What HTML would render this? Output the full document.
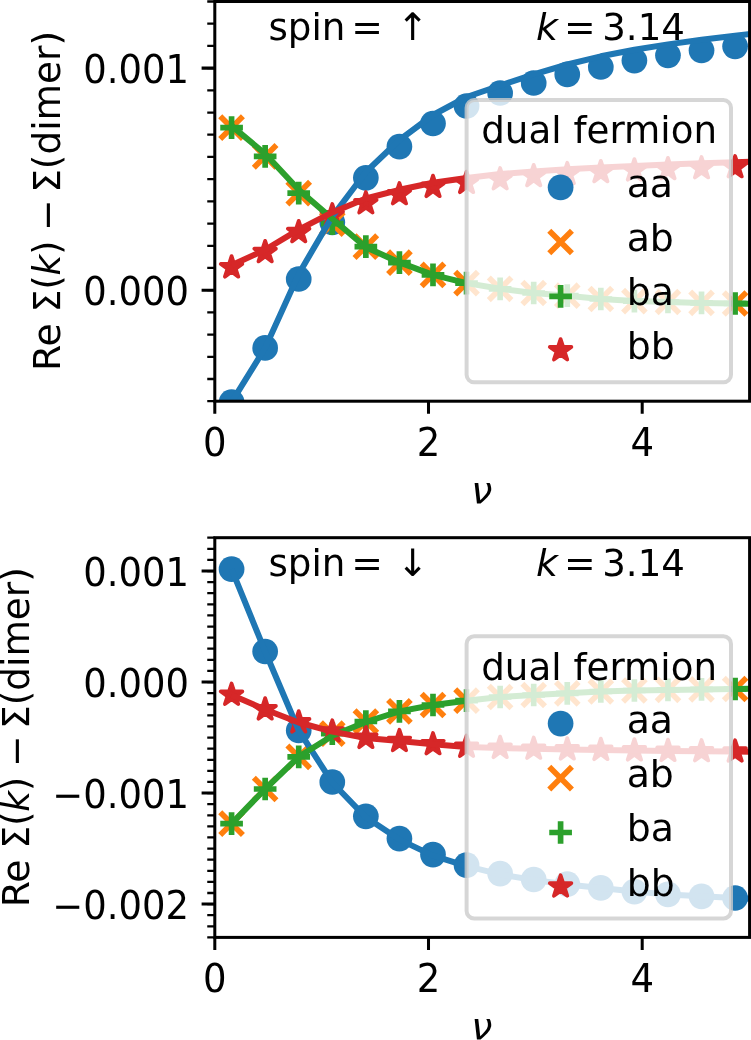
<!DOCTYPE html>
<html><head><meta charset="utf-8"><title>plot</title>
<style>html,body{margin:0;padding:0;background:#fff;overflow:hidden}svg{display:block}</style>
</head><body>
<svg width="751" height="1040" viewBox="0 0 751 1040" font-family="'DejaVu Sans', 'Liberation Sans', sans-serif" font-size="37.8px" fill="#000">
<rect width="751" height="1040" fill="#fff"/>
<clipPath id="clip0"><rect x="214.8" y="1.5" width="534.8" height="399.7"/></clipPath>
<g clip-path="url(#clip0)">
<circle cx="231.58" cy="402.20" r="12.85" fill="#1f77b4"/>
<circle cx="265.15" cy="347.90" r="12.85" fill="#1f77b4"/>
<circle cx="298.72" cy="279.00" r="12.85" fill="#1f77b4"/>
<circle cx="332.29" cy="222.40" r="12.85" fill="#1f77b4"/>
<circle cx="365.86" cy="177.80" r="12.85" fill="#1f77b4"/>
<circle cx="399.42" cy="146.60" r="12.85" fill="#1f77b4"/>
<circle cx="432.99" cy="123.50" r="12.85" fill="#1f77b4"/>
<circle cx="466.56" cy="106.00" r="12.85" fill="#1f77b4"/>
<circle cx="500.13" cy="93.00" r="12.85" fill="#1f77b4"/>
<circle cx="533.70" cy="83.00" r="12.85" fill="#1f77b4"/>
<circle cx="567.26" cy="74.40" r="12.85" fill="#1f77b4"/>
<circle cx="600.83" cy="67.00" r="12.85" fill="#1f77b4"/>
<circle cx="634.40" cy="60.60" r="12.85" fill="#1f77b4"/>
<circle cx="667.97" cy="55.30" r="12.85" fill="#1f77b4"/>
<circle cx="701.53" cy="50.40" r="12.85" fill="#1f77b4"/>
<circle cx="735.10" cy="46.30" r="12.85" fill="#1f77b4"/>
<path d="M220.25,116.26L242.92,138.94M220.25,138.94L242.92,116.26M253.82,145.06L276.49,167.74M253.82,167.74L276.49,145.06M287.38,181.86L310.05,204.53M287.38,204.53L310.05,181.86M320.95,212.26L343.62,234.94M320.95,234.94L343.62,212.26M354.52,235.36L377.19,258.03M354.52,258.03L377.19,235.36M388.09,251.36L410.76,274.03M388.09,274.03L410.76,251.36M421.66,263.56L444.33,286.23M421.66,286.23L444.33,263.56M455.22,271.77L477.89,294.44M455.22,294.44L477.89,271.77M488.79,277.47L511.46,300.13M488.79,300.13L511.46,277.47M522.36,281.67L545.03,304.33M522.36,304.33L545.03,281.67M555.93,284.37L578.60,307.03M555.93,307.03L578.60,284.37M589.50,287.67L612.17,310.33M589.50,310.33L612.17,287.67M623.06,289.77L645.73,312.44M623.06,312.44L645.73,289.77M656.63,290.67L679.30,313.33M656.63,313.33L679.30,290.67M690.20,291.56L712.87,314.23M690.20,314.23L712.87,291.56M723.77,292.17L746.44,314.83M723.77,314.83L746.44,292.17" stroke="#ff7f0e" stroke-width="5.67" fill="none"/>
<path d="M220.25,127.60L242.92,127.60M231.58,116.26L231.58,138.94M253.82,156.40L276.49,156.40M265.15,145.06L265.15,167.74M287.38,193.20L310.05,193.20M298.72,181.86L298.72,204.53M320.95,223.60L343.62,223.60M332.29,212.26L332.29,234.94M354.52,246.70L377.19,246.70M365.86,235.36L365.86,258.03M388.09,262.70L410.76,262.70M399.42,251.36L399.42,274.03M421.66,274.90L444.33,274.90M432.99,263.56L432.99,286.23M455.22,283.10L477.89,283.10M466.56,271.77L466.56,294.44M488.79,288.80L511.46,288.80M500.13,277.47L500.13,300.13M522.36,293.00L545.03,293.00M533.70,281.67L533.70,304.33M555.93,295.70L578.60,295.70M567.26,284.37L567.26,307.03M589.50,299.00L612.17,299.00M600.83,287.67L600.83,310.33M623.06,301.10L645.73,301.10M634.40,289.77L634.40,312.44M656.63,302.00L679.30,302.00M667.97,290.67L667.97,313.33M690.20,302.90L712.87,302.90M701.53,291.56L701.53,314.23M723.77,303.50L746.44,303.50M735.10,292.17L735.10,314.83" stroke="#2ca02c" stroke-width="5.67" fill="none"/>
<path d="M231.58,256.17 L234.13,264.00 L242.36,264.00 L235.70,268.84 L238.25,276.67 L231.58,271.83 L224.92,276.67 L227.47,268.84 L220.80,264.00 L229.04,264.00ZM265.15,240.86 L267.70,248.70 L275.93,248.70 L269.27,253.54 L271.81,261.37 L265.15,256.53 L258.49,261.37 L261.03,253.54 L254.37,248.70 L262.61,248.70ZM298.72,220.86 L301.26,228.70 L309.50,228.70 L302.84,233.54 L305.38,241.37 L298.72,236.53 L292.06,241.37 L294.60,233.54 L287.94,228.70 L296.17,228.70ZM332.29,203.97 L334.83,211.80 L343.07,211.80 L336.41,216.64 L338.95,224.47 L332.29,219.63 L325.63,224.47 L328.17,216.64 L321.51,211.80 L329.74,211.80ZM365.86,192.06 L368.40,199.90 L376.64,199.90 L369.97,204.74 L372.52,212.57 L365.86,207.73 L359.19,212.57 L361.74,204.74 L355.08,199.90 L363.31,199.90ZM399.42,182.97 L401.97,190.80 L410.20,190.80 L403.54,195.64 L406.09,203.47 L399.42,198.63 L392.76,203.47 L395.31,195.64 L388.64,190.80 L396.88,190.80ZM432.99,175.66 L435.54,183.50 L443.77,183.50 L437.11,188.34 L439.65,196.17 L432.99,191.33 L426.33,196.17 L428.87,188.34 L422.21,183.50 L430.45,183.50ZM466.56,171.66 L469.10,179.50 L477.34,179.50 L470.68,184.34 L473.22,192.17 L466.56,187.33 L459.90,192.17 L462.44,184.34 L455.78,179.50 L464.01,179.50ZM500.13,168.06 L502.67,175.90 L510.91,175.90 L504.24,180.74 L506.79,188.57 L500.13,183.73 L493.46,188.57 L496.01,180.74 L489.35,175.90 L497.58,175.90ZM533.70,164.86 L536.24,172.70 L544.48,172.70 L537.81,177.54 L540.36,185.37 L533.70,180.53 L527.03,185.37 L529.58,177.54 L522.91,172.70 L531.15,172.70ZM567.26,162.76 L569.81,170.60 L578.04,170.60 L571.38,175.44 L573.93,183.27 L567.26,178.43 L560.60,183.27 L563.15,175.44 L556.48,170.60 L564.72,170.60ZM600.83,160.86 L603.38,168.70 L611.61,168.70 L604.95,173.54 L607.49,181.37 L600.83,176.53 L594.17,181.37 L596.71,173.54 L590.05,168.70 L598.29,168.70ZM634.40,159.16 L636.94,167.00 L645.18,167.00 L638.52,171.84 L641.06,179.67 L634.40,174.83 L627.74,179.67 L630.28,171.84 L623.62,167.00 L631.85,167.00ZM667.97,157.86 L670.51,165.70 L678.75,165.70 L672.08,170.54 L674.63,178.37 L667.97,173.53 L661.30,178.37 L663.85,170.54 L657.19,165.70 L665.42,165.70ZM701.53,156.97 L704.08,164.80 L712.32,164.80 L705.65,169.64 L708.20,177.47 L701.53,172.63 L694.87,177.47 L697.42,169.64 L690.75,164.80 L698.99,164.80ZM735.10,155.97 L737.65,163.80 L745.88,163.80 L739.22,168.64 L741.77,176.47 L735.10,171.63 L728.44,176.47 L730.99,168.64 L724.32,163.80 L732.56,163.80Z" stroke="#d62728" stroke-width="3.78" stroke-linejoin="round" fill="#d62728"/>
<polyline points="231.58,402.20 265.15,347.90 298.72,273.90 332.29,216.50 365.86,172.00 399.42,140.00 432.99,115.00 466.56,97.00 500.13,85.50 533.70,74.40 567.26,64.50 600.83,56.30 634.40,49.80 667.97,44.40 701.53,39.80 735.10,35.80 768.67,31.80" stroke="#1f77b4" stroke-width="6.0" fill="none" stroke-linejoin="round" stroke-linecap="butt"/>
<polyline points="231.58,125.90 265.15,153.80 298.72,189.70 332.29,218.80 365.86,247.20 399.42,262.40 432.99,274.90 466.56,283.10 500.13,288.80 533.70,293.00 567.26,295.70 600.83,299.00 634.40,301.10 667.97,302.00 701.53,302.90 735.10,303.50 768.67,304.10" stroke="#2ca02c" stroke-width="6.0" fill="none" stroke-linejoin="round" stroke-linecap="butt"/>
<polyline points="231.58,265.30 265.15,249.80 298.72,229.60 332.29,212.40 365.86,198.50 399.42,189.80 432.99,182.70 466.56,178.00 500.13,174.00 533.70,171.50 567.26,169.30 600.83,167.60 634.40,166.00 667.97,164.50 701.53,163.30 735.10,162.20 768.67,161.10" stroke="#d62728" stroke-width="6.0" fill="none" stroke-linejoin="round" stroke-linecap="butt"/>
</g>
<path d="M214.8,1.50h-7.55M214.8,23.71h-7.55M214.8,45.91h-7.55M214.8,68.12h-7.55M214.8,90.32h-7.55M214.8,112.53h-7.55M214.8,134.73h-7.55M214.8,156.94h-7.55M214.8,179.14h-7.55M214.8,201.35h-7.55M214.8,223.56h-7.55M214.8,245.76h-7.55M214.8,267.97h-7.55M214.8,290.17h-7.55M214.8,312.38h-7.55M214.8,334.58h-7.55M214.8,356.79h-7.55M214.8,378.99h-7.55M214.8,401.20h-7.55" stroke="#000" stroke-width="2.27" fill="none"/>
<path d="M214.8,68.12h-13.2M214.8,290.17h-13.2M214.80,401.2v12.5M428.50,401.2v12.5M642.20,401.2v12.5" stroke="#000" stroke-width="3.02" fill="none"/>
<rect x="214.8" y="1.5" width="534.8" height="399.7" fill="none" stroke="#000" stroke-width="3.02"/>
<text transform="translate(188.90,82.62) scale(0.977,1.01)" text-anchor="end" >0.001</text>
<text transform="translate(188.90,304.67) scale(0.977,1.01)" text-anchor="end" >0.000</text>
<text transform="translate(214.80,456.00) scale(0.98,1.01)" text-anchor="middle" >0</text>
<text transform="translate(428.50,456.00) scale(0.98,1.01)" text-anchor="middle" >2</text>
<text transform="translate(642.20,456.00) scale(0.98,1.01)" text-anchor="middle" >4</text>
<text transform="translate(481.80,503.00) scale(1.0,1.0)" text-anchor="middle" font-style="italic">ν</text>
<text transform="translate(59.6,371.10) rotate(-90) scale(1.0,1)">Re</text>
<text transform="translate(59.6,312.20) rotate(-90) scale(0.95,1)">Σ(<tspan font-style="italic">k</tspan>)</text>
<text transform="translate(59.6,230.90) rotate(-90) scale(1.0,1)">−</text>
<text transform="translate(59.6,192.80) rotate(-90) scale(0.99,1)">Σ(dimer)</text>
<text transform="translate(268.40,40.10) scale(0.985,1.0)" text-anchor="start" >spin</text>
<text transform="translate(351.20,40.10) scale(1.0,1.0)" text-anchor="start" >=</text>
<text transform="translate(396.90,40.10) scale(1.0,1.0)" text-anchor="start" >↑</text>
<text transform="translate(536.00,39.80) scale(1.0,1.0)" text-anchor="start" font-style="italic">k</text>
<text transform="translate(564.00,39.80) scale(1.0,1.0)" text-anchor="start" >=</text>
<text transform="translate(602.20,39.80) scale(0.983,1.0)" text-anchor="start" >3.14</text>
<rect x="466.6" y="100.10" width="264.4" height="282.20" rx="7.6" fill="#fff" fill-opacity="0.8" stroke="#ccc" stroke-opacity="0.8" stroke-width="4.0"/>
<text transform="translate(599.10,143.30) scale(0.985,0.975)" text-anchor="middle" >dual fermion</text>
<circle cx="560.6" cy="187.40" r="12.85" fill="#1f77b4"/>
<path d="M549.26,230.67L571.94,253.34M549.26,253.34L571.94,230.67" stroke="#ff7f0e" stroke-width="5.67"/>
<path d="M549.26,296.30L571.94,296.30M560.60,284.97L560.60,307.63" stroke="#2ca02c" stroke-width="5.67"/>
<path d="M560.60,339.07 L563.14,346.90 L571.38,346.90 L564.72,351.74 L567.26,359.57 L560.60,354.73 L553.94,359.57 L556.48,351.74 L549.82,346.90 L558.06,346.90Z" stroke="#d62728" stroke-width="3.78" stroke-linejoin="round" fill="#d62728"/>
<text transform="translate(626.70,197.00) scale(1.0,1.0)" text-anchor="start" >aa</text>
<text transform="translate(626.70,251.10) scale(1.0,1.0)" text-anchor="start" >ab</text>
<text transform="translate(626.70,305.20) scale(1.0,1.0)" text-anchor="start" >ba</text>
<text transform="translate(626.70,359.30) scale(1.0,1.0)" text-anchor="start" >bb</text>
<clipPath id="clip1"><rect x="214.8" y="537.7" width="534.8" height="399.69999999999993"/></clipPath>
<g clip-path="url(#clip1)">
<circle cx="231.58" cy="569.20" r="12.85" fill="#1f77b4"/>
<circle cx="265.15" cy="651.50" r="12.85" fill="#1f77b4"/>
<circle cx="298.72" cy="730.50" r="12.85" fill="#1f77b4"/>
<circle cx="332.29" cy="782.00" r="12.85" fill="#1f77b4"/>
<circle cx="365.86" cy="816.30" r="12.85" fill="#1f77b4"/>
<circle cx="399.42" cy="838.60" r="12.85" fill="#1f77b4"/>
<circle cx="432.99" cy="854.60" r="12.85" fill="#1f77b4"/>
<circle cx="466.56" cy="865.20" r="12.85" fill="#1f77b4"/>
<circle cx="500.13" cy="873.60" r="12.85" fill="#1f77b4"/>
<circle cx="533.70" cy="879.50" r="12.85" fill="#1f77b4"/>
<circle cx="567.26" cy="884.20" r="12.85" fill="#1f77b4"/>
<circle cx="600.83" cy="887.90" r="12.85" fill="#1f77b4"/>
<circle cx="634.40" cy="891.60" r="12.85" fill="#1f77b4"/>
<circle cx="667.97" cy="894.40" r="12.85" fill="#1f77b4"/>
<circle cx="701.53" cy="896.30" r="12.85" fill="#1f77b4"/>
<circle cx="735.10" cy="898.00" r="12.85" fill="#1f77b4"/>
<path d="M220.25,812.26L242.92,834.94M220.25,834.94L242.92,812.26M253.82,777.66L276.49,800.34M253.82,800.34L276.49,777.66M287.38,745.46L310.05,768.13M287.38,768.13L310.05,745.46M320.95,722.37L343.62,745.04M320.95,745.04L343.62,722.37M354.52,710.16L377.19,732.84M354.52,732.84L377.19,710.16M388.09,700.06L410.76,722.74M388.09,722.74L410.76,700.06M421.66,693.66L444.33,716.34M421.66,716.34L444.33,693.66M455.22,689.37L477.89,712.04M455.22,712.04L477.89,689.37M488.79,685.66L511.46,708.34M488.79,708.34L511.46,685.66M522.36,683.66L545.03,706.34M522.36,706.34L545.03,683.66M555.93,681.96L578.60,704.63M555.93,704.63L578.60,681.96M589.50,680.16L612.17,702.84M589.50,702.84L612.17,680.16M623.06,679.16L645.73,701.84M623.06,701.84L645.73,679.16M656.63,678.56L679.30,701.24M656.63,701.24L679.30,678.56M690.20,678.06L712.87,700.74M690.20,700.74L712.87,678.06M723.77,677.66L746.44,700.34M723.77,700.34L746.44,677.66" stroke="#ff7f0e" stroke-width="5.67" fill="none"/>
<path d="M220.25,823.60L242.92,823.60M231.58,812.26L231.58,834.94M253.82,789.00L276.49,789.00M265.15,777.66L265.15,800.34M287.38,756.80L310.05,756.80M298.72,745.46L298.72,768.13M320.95,733.70L343.62,733.70M332.29,722.37L332.29,745.04M354.52,721.50L377.19,721.50M365.86,710.16L365.86,732.84M388.09,711.40L410.76,711.40M399.42,700.06L399.42,722.74M421.66,705.00L444.33,705.00M432.99,693.66L432.99,716.34M455.22,700.70L477.89,700.70M466.56,689.37L466.56,712.04M488.79,697.00L511.46,697.00M500.13,685.66L500.13,708.34M522.36,695.00L545.03,695.00M533.70,683.66L533.70,706.34M555.93,693.30L578.60,693.30M567.26,681.96L567.26,704.63M589.50,691.50L612.17,691.50M600.83,680.16L600.83,702.84M623.06,690.50L645.73,690.50M634.40,679.16L634.40,701.84M656.63,689.90L679.30,689.90M667.97,678.56L667.97,701.24M690.20,689.40L712.87,689.40M701.53,678.06L701.53,700.74M723.77,689.00L746.44,689.00M735.10,677.66L735.10,700.34" stroke="#2ca02c" stroke-width="5.67" fill="none"/>
<path d="M231.58,683.56 L234.13,691.40 L242.36,691.40 L235.70,696.24 L238.25,704.07 L231.58,699.23 L224.92,704.07 L227.47,696.24 L220.80,691.40 L229.04,691.40ZM265.15,698.16 L267.70,706.00 L275.93,706.00 L269.27,710.84 L271.81,718.67 L265.15,713.83 L258.49,718.67 L261.03,710.84 L254.37,706.00 L262.61,706.00ZM298.72,711.16 L301.26,719.00 L309.50,719.00 L302.84,723.84 L305.38,731.67 L298.72,726.83 L292.06,731.67 L294.60,723.84 L287.94,719.00 L296.17,719.00ZM332.29,720.26 L334.83,728.10 L343.07,728.10 L336.41,732.94 L338.95,740.77 L332.29,735.93 L325.63,740.77 L328.17,732.94 L321.51,728.10 L329.74,728.10ZM365.86,726.66 L368.40,734.50 L376.64,734.50 L369.97,739.34 L372.52,747.17 L365.86,742.33 L359.19,747.17 L361.74,739.34 L355.08,734.50 L363.31,734.50ZM399.42,729.76 L401.97,737.60 L410.20,737.60 L403.54,742.44 L406.09,750.27 L399.42,745.43 L392.76,750.27 L395.31,742.44 L388.64,737.60 L396.88,737.60ZM432.99,732.96 L435.54,740.80 L443.77,740.80 L437.11,745.64 L439.65,753.47 L432.99,748.63 L426.33,753.47 L428.87,745.64 L422.21,740.80 L430.45,740.80ZM466.56,735.56 L469.10,743.40 L477.34,743.40 L470.68,748.24 L473.22,756.07 L466.56,751.23 L459.90,756.07 L462.44,748.24 L455.78,743.40 L464.01,743.40ZM500.13,736.66 L502.67,744.50 L510.91,744.50 L504.24,749.34 L506.79,757.17 L500.13,752.33 L493.46,757.17 L496.01,749.34 L489.35,744.50 L497.58,744.50ZM533.70,737.46 L536.24,745.30 L544.48,745.30 L537.81,750.14 L540.36,757.97 L533.70,753.13 L527.03,757.97 L529.58,750.14 L522.91,745.30 L531.15,745.30ZM567.26,738.16 L569.81,746.00 L578.04,746.00 L571.38,750.84 L573.93,758.67 L567.26,753.83 L560.60,758.67 L563.15,750.84 L556.48,746.00 L564.72,746.00ZM600.83,738.66 L603.38,746.50 L611.61,746.50 L604.95,751.34 L607.49,759.17 L600.83,754.33 L594.17,759.17 L596.71,751.34 L590.05,746.50 L598.29,746.50ZM634.40,739.16 L636.94,747.00 L645.18,747.00 L638.52,751.84 L641.06,759.67 L634.40,754.83 L627.74,759.67 L630.28,751.84 L623.62,747.00 L631.85,747.00ZM667.97,739.66 L670.51,747.50 L678.75,747.50 L672.08,752.34 L674.63,760.17 L667.97,755.33 L661.30,760.17 L663.85,752.34 L657.19,747.50 L665.42,747.50ZM701.53,739.96 L704.08,747.80 L712.32,747.80 L705.65,752.64 L708.20,760.47 L701.53,755.63 L694.87,760.47 L697.42,752.64 L690.75,747.80 L698.99,747.80ZM735.10,740.26 L737.65,748.10 L745.88,748.10 L739.22,752.94 L741.77,760.77 L735.10,755.93 L728.44,760.77 L730.99,752.94 L724.32,748.10 L732.56,748.10Z" stroke="#d62728" stroke-width="3.78" stroke-linejoin="round" fill="#d62728"/>
<polyline points="231.58,569.20 265.15,651.50 298.72,730.50 332.29,782.50 365.86,817.30 399.42,839.60 432.99,855.60 466.56,866.20 500.13,874.40 533.70,880.00 567.26,884.50 600.83,887.90 634.40,891.60 667.97,894.40 701.53,896.30 735.10,898.00 768.67,899.70" stroke="#1f77b4" stroke-width="6.0" fill="none" stroke-linejoin="round" stroke-linecap="butt"/>
<polyline points="231.58,823.60 265.15,789.00 298.72,756.80 332.29,735.70 365.86,722.00 399.42,711.40 432.99,705.00 466.56,700.70 500.13,697.00 533.70,695.00 567.26,693.30 600.83,691.50 634.40,690.50 667.97,689.90 701.53,689.40 735.10,689.00 768.67,688.60" stroke="#2ca02c" stroke-width="6.0" fill="none" stroke-linejoin="round" stroke-linecap="butt"/>
<polyline points="231.58,694.90 265.15,709.50 298.72,722.50 332.29,731.60 365.86,738.00 399.42,741.10 432.99,744.30 466.56,746.90 500.13,748.00 533.70,748.80 567.26,749.50 600.83,750.00 634.40,750.50 667.97,751.00 701.53,751.30 735.10,751.60 768.67,751.90" stroke="#d62728" stroke-width="6.0" fill="none" stroke-linejoin="round" stroke-linecap="butt"/>
</g>
<path d="M214.8,537.70h-7.55M214.8,548.80h-7.55M214.8,559.91h-7.55M214.8,571.01h-7.55M214.8,582.11h-7.55M214.8,593.21h-7.55M214.8,604.32h-7.55M214.8,615.42h-7.55M214.8,626.52h-7.55M214.8,637.62h-7.55M214.8,648.73h-7.55M214.8,659.83h-7.55M214.8,670.93h-7.55M214.8,682.04h-7.55M214.8,693.14h-7.55M214.8,704.24h-7.55M214.8,715.34h-7.55M214.8,726.45h-7.55M214.8,737.55h-7.55M214.8,748.65h-7.55M214.8,759.76h-7.55M214.8,770.86h-7.55M214.8,781.96h-7.55M214.8,793.06h-7.55M214.8,804.17h-7.55M214.8,815.27h-7.55M214.8,826.37h-7.55M214.8,837.48h-7.55M214.8,848.58h-7.55M214.8,859.68h-7.55M214.8,870.78h-7.55M214.8,881.89h-7.55M214.8,892.99h-7.55M214.8,904.09h-7.55M214.8,915.19h-7.55M214.8,926.30h-7.55M214.8,937.40h-7.55" stroke="#000" stroke-width="2.27" fill="none"/>
<path d="M214.8,571.01h-13.2M214.8,682.04h-13.2M214.8,793.06h-13.2M214.8,904.09h-13.2M214.80,937.4v12.5M428.50,937.4v12.5M642.20,937.4v12.5" stroke="#000" stroke-width="3.02" fill="none"/>
<rect x="214.8" y="537.7" width="534.8" height="399.69999999999993" fill="none" stroke="#000" stroke-width="3.02"/>
<text transform="translate(188.90,585.51) scale(0.977,1.01)" text-anchor="end" >0.001</text>
<text transform="translate(188.90,696.54) scale(0.977,1.01)" text-anchor="end" >0.000</text>
<text transform="translate(188.90,807.56) scale(0.977,1.01)" text-anchor="end" >−0.001</text>
<text transform="translate(188.90,918.59) scale(0.977,1.01)" text-anchor="end" >−0.002</text>
<text transform="translate(214.80,992.20) scale(0.98,1.01)" text-anchor="middle" >0</text>
<text transform="translate(428.50,992.20) scale(0.98,1.01)" text-anchor="middle" >2</text>
<text transform="translate(642.20,992.20) scale(0.98,1.01)" text-anchor="middle" >4</text>
<text transform="translate(481.80,1039.20) scale(1.0,1.0)" text-anchor="middle" font-style="italic">ν</text>
<text transform="translate(28.8,907.30) rotate(-90) scale(1.0,1)">Re</text>
<text transform="translate(28.8,848.40) rotate(-90) scale(0.95,1)">Σ(<tspan font-style="italic">k</tspan>)</text>
<text transform="translate(28.8,767.10) rotate(-90) scale(1.0,1)">−</text>
<text transform="translate(28.8,729.00) rotate(-90) scale(0.99,1)">Σ(dimer)</text>
<text transform="translate(268.40,576.30) scale(0.985,1.0)" text-anchor="start" >spin</text>
<text transform="translate(351.20,576.30) scale(1.0,1.0)" text-anchor="start" >=</text>
<text transform="translate(396.90,576.30) scale(1.0,1.0)" text-anchor="start" >↓</text>
<text transform="translate(536.00,576.00) scale(1.0,1.0)" text-anchor="start" font-style="italic">k</text>
<text transform="translate(564.00,576.00) scale(1.0,1.0)" text-anchor="start" >=</text>
<text transform="translate(602.20,576.00) scale(0.983,1.0)" text-anchor="start" >3.14</text>
<rect x="466.6" y="636.30" width="264.4" height="282.20" rx="7.6" fill="#fff" fill-opacity="0.8" stroke="#ccc" stroke-opacity="0.8" stroke-width="4.0"/>
<text transform="translate(599.10,679.50) scale(0.985,0.975)" text-anchor="middle" >dual fermion</text>
<circle cx="560.6" cy="723.60" r="12.85" fill="#1f77b4"/>
<path d="M549.26,766.86L571.94,789.53M549.26,789.53L571.94,766.86" stroke="#ff7f0e" stroke-width="5.67"/>
<path d="M549.26,832.50L571.94,832.50M560.60,821.16L560.60,843.84" stroke="#2ca02c" stroke-width="5.67"/>
<path d="M560.60,875.26 L563.14,883.10 L571.38,883.10 L564.72,887.94 L567.26,895.77 L560.60,890.93 L553.94,895.77 L556.48,887.94 L549.82,883.10 L558.06,883.10Z" stroke="#d62728" stroke-width="3.78" stroke-linejoin="round" fill="#d62728"/>
<text transform="translate(626.70,733.20) scale(1.0,1.0)" text-anchor="start" >aa</text>
<text transform="translate(626.70,787.30) scale(1.0,1.0)" text-anchor="start" >ab</text>
<text transform="translate(626.70,841.40) scale(1.0,1.0)" text-anchor="start" >ba</text>
<text transform="translate(626.70,895.50) scale(1.0,1.0)" text-anchor="start" >bb</text>
</svg>
</body></html>
